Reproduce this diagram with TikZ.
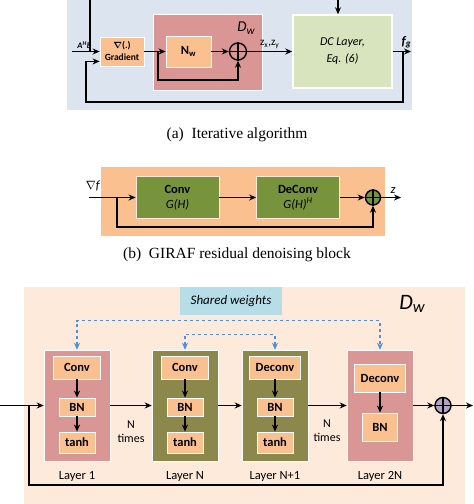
\documentclass[tikz,border=0pt]{standalone}
\usepackage{fontspec}
\setmainfont{Carlito}
\newfontfamily\capfont{Liberation Serif}
\usetikzlibrary{arrows.meta}
\definecolor{bgblue}{RGB}{220,228,240}
\definecolor{redbox}{RGB}{217,150,148}
\definecolor{peach}{RGB}{250,192,144}
\definecolor{dcgreen}{RGB}{215,228,189}
\definecolor{olivegreen}{RGB}{119,147,60}
\definecolor{peachlight}{RGB}{253,234,218}
\definecolor{olive}{RGB}{140,136,76}
\definecolor{skyblue}{RGB}{183,222,232}
\definecolor{dashblue}{RGB}{85,142,213}
\definecolor{lilac}{RGB}{179,162,199}
\newcommand{\dwlabel}[1]{{\itshape\fontsize{#1}{#1}\selectfont D\raisebox{-0.35ex}{\fontsize{0.75\dimexpr#1pt}{1}\selectfont w}}}
\tikzset{
  line/.style={line width=1.4pt},
  arr/.style={line, -{Stealth[length=7pt,width=6pt]}},
  block/.style={draw=white, line width=0.8pt, inner sep=0pt},
  inbox/.style={block, fill=peach, font=\bfseries\fontsize{12.5}{14}\selectfont},
  layer/.style={draw=white, line width=0.5pt, minimum width=66, minimum height=111},
  sumnode/.style={circle, draw, line width=1.4pt, inner sep=0pt},
  shared/.style={draw=dashblue, dashed, line width=1.3pt, {Stealth[length=7pt,width=6pt]}-{Stealth[length=7pt,width=6pt]}}
}
\begin{document}
\begin{tikzpicture}[x=1pt,y=-1pt]
\useasboundingbox (0,0) rectangle (474,504);
% (a) Iterative algorithm
\fill [bgblue] (67,0) rectangle (412,110);
\node (dwa) [block, fill=redbox, minimum width=109, minimum height=76] at (207.5,52) {};
\node at (246,28) {\dwlabel{15}};
\node (grad) [block, fill=peach, minimum width=44, minimum height=29, align=center, font=\bfseries\fontsize{9.5}{12}\selectfont] at (122,51.5) {{\boldmath$\nabla$}(.)\\Gradient};
\node (nw) [block, fill=peach, minimum width=45, minimum height=31, font=\bfseries\fontsize{12.5}{14}\selectfont] at (188.5,51.5) {N\textsubscript{w}};
\node (suma) [sumnode, minimum size=17] at (238,51.5) {};
\draw [line] (suma.north) -- (suma.south) (suma.west) -- (suma.east);
\node (dc) [block, draw=white, line width=1.5pt, fill=dcgreen, minimum width=99, minimum height=73, align=center, font=\itshape\fontsize{12}{17}\selectfont] at (342.5,51.5) {DC Layer,\\Eq. (6)};
\coordinate (ain) at (72,51.5);
\coordinate (atop) at (90,0);
\coordinate (dctop) at (338,0);
\coordinate (fout) at (403,51.5);
\coordinate (aout) at (411,51.5);
\coordinate (askip) at (158,51.5);
\draw [arr] (ain) -- (grad.west) node [pos=0.45, above=-1pt, font=\bfseries\itshape\fontsize{8.5}{9}\selectfont] {A\textsuperscript{H}b};
\draw [line] (atop) -- (atop |- ain);
\draw [arr] (grad.east) -- (nw.west);
\draw [arr] (nw.east) -- (suma.west);
\draw [arr] (askip) -- (158,80) -| (suma.south); % skip
\draw [arr] (suma.east) -- (dc.west) node [midway, above=-1pt, font=\fontsize{11}{12}\selectfont] {z\textsubscript{x},z\textsubscript{y}};
\draw [arr] (dctop) -- (dctop |- dc.north);
\draw [arr] (dc.east) -- (aout) node [pos=0.75, above=-1pt, font=\bfseries\itshape\fontsize{13}{14}\selectfont] {f\textsubscript{g}};
\draw [arr] (fout) -- (403,102) -- (86,102) |- ([yshift=5pt]grad.south west); % feedback
\node at (237,135) {\capfont\fontsize{15.5}{18}\selectfont (a)\ \ Iterative algorithm};
% (b) GIRAF block
\fill [peach] (101,167) rectangle (385,236);
\node (conv) [block, draw=peachlight, fill=olivegreen, minimum width=83, minimum height=42, align=center, font=\fontsize{12.5}{15}\selectfont] at (177.5,197.5) {\textbf{Conv}\\\textit{G(H)}};
\node (deconv) [block, draw=peachlight, fill=olivegreen, minimum width=83, minimum height=42, align=center, font=\fontsize{12.5}{15}\selectfont] at (298,197.5) {\textbf{DeConv}\\\textit{G(H)\textsuperscript{H}}};
\node (sumb) [sumnode, fill=olivegreen, minimum size=15] at (373,197.5) {};
\draw [line] (sumb.north) -- (sumb.south) (sumb.west) -- (sumb.east);
\coordinate (bin) at (89,197.5);
\coordinate (bskip) at (117,197.5);
\coordinate (bout) at (401,197.5);
\draw [arr] (bin) -- (conv.west);
\node at (93,186) {\fontsize{12.5}{14}\selectfont$\nabla$\textit{f}};
\draw [arr] (conv) -- (deconv);
\draw [arr] (deconv) -- (sumb);
\draw [arr] (bskip) -- (117,227) -| (sumb.south); % skip
\draw [arr] (sumb.east) -- (bout) node [pos=0.6, above=0pt, font=\itshape\fontsize{12.5}{14}\selectfont] {z};
\node at (237,255) {\capfont\fontsize{15.5}{18}\selectfont (b)\ \ GIRAF residual denoising block};
% (c) D_w
\fill [peachlight] (24,287) rectangle (465,504);
\node (shw) [fill=skyblue, minimum width=102, minimum height=28, font=\itshape\fontsize{13}{15}\selectfont] at (231,301) {Shared weights};
\node at (412,304) {\dwlabel{22}};
\foreach \n/\x/\top/\w/\col/\name in {a/77/Conv/47/redbox/1, b/185/Conv/47/olive/N, c/275/Deconv/51/olive/N+1} {
  \node (l\n) [layer, fill=\col] at (\x,405.5) {};
  \node (c\n) [inbox, minimum width=\w, minimum height=23] at (\x,367.5) {\top};
  \node (bn\n) [inbox, minimum width=36, minimum height=18] at (\x,407) {BN};
  \node (t\n) [inbox, minimum width=36, minimum height=21] at (\x,442.5) {tanh};
  \draw [arr] (c\n) -- (bn\n);
  \draw [arr] (bn\n) -- (t\n);
  \node [font=\fontsize{12.5}{14}\selectfont] at (\x,476) {Layer \name};
}
\node (ld) [layer, fill=redbox] at (380,405.5) {};
\node (cd) [inbox, minimum width=51, minimum height=28] at (380,378) {Deconv};
\node (bnd) [inbox, minimum width=35, minimum height=28] at (380,427) {BN};
\draw [arr] (cd) -- (bnd);
\node [font=\fontsize{12.5}{14}\selectfont] at (380,476) {Layer 2N};
\node (suma2) [sumnode, fill=lilac, minimum size=16] at (443,405.5) {};
\draw [line] (suma2.north) -- (suma2.south) (suma2.west) -- (suma2.east);
\node [align=center, font=\fontsize{12}{14}\selectfont] at (131,432) {N\\times};
\node [align=center, font=\fontsize{12}{14}\selectfont] at (327,431) {N\\times};
\coordinate (cin) at (0,405.5);
\coordinate (cskip) at (29,405.5);
\coordinate (cout) at (473,405.5);
\draw [arr] (cin) -- (la.west);
\draw [arr] (la) -- (lb);
\draw [arr] (lb) -- (lc);
\draw [arr] (lc) -- (ld);
\draw [arr] (ld) -- (suma2);
\draw [arr] (suma2) -- (cout);
\draw [arr] (cskip) -- (29,485) -| (suma2.south); % skip
\draw [shared] (la.north) -- ++(0,-29) -| (ld.north);
\draw [shared] (lb.north) -- ++(0,-15) -| (lc.north);
\end{tikzpicture}
\end{document}
